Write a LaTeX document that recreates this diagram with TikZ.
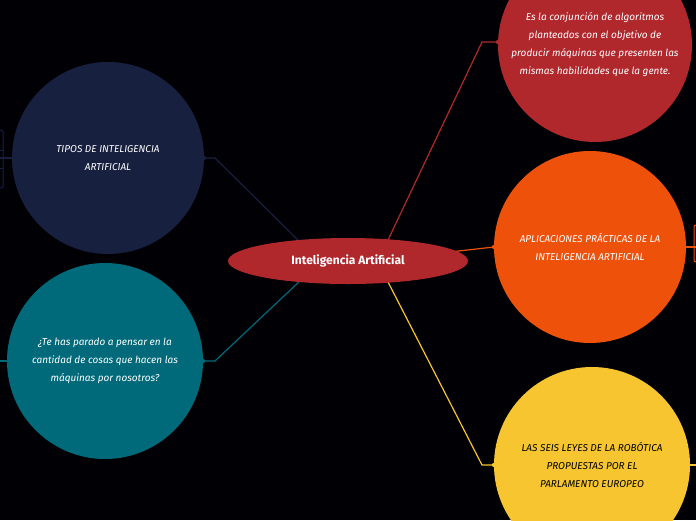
\documentclass[tikz,border=0pt]{standalone}
\usepackage{fontspec}
\setmainfont{Fira Sans}
\usetikzlibrary{shapes.geometric}
\begin{document}
\begin{tikzpicture}[x=1pt,y=-1pt,
 bub/.style={circle,inner sep=0pt,align=center,font=\itshape\fontsize{10}{18}\selectfont},
 con/.style={line width=1.2pt},
 tip/.style={circle,fill,inner sep=0pt,minimum size=4pt}]
\fill[black!98!blue] (0,0) rectangle (696,520);
\useasboundingbox (0,0) rectangle (696,520);
\definecolor{cred}{HTML}{B0282C}\definecolor{corg}{HTML}{EE510A}\definecolor{cyel}{HTML}{F7C52F}
\definecolor{cnav}{HTML}{18203F}\definecolor{ctea}{HTML}{006A7A}
\node[bub,fill=cred,minimum size=194pt,text=white] (r) at (595,45) {Es la conjunción de algoritmos\\planteados con el objetivo de\\producir máquinas que presenten las\\mismas habilidades que la gente.};
\node[bub,fill=corg,minimum size=192pt,text=white] (o) at (590,247) {APLICACIONES PRÁCTICAS DE LA\\INTELIGENCIA ARTIFICIAL};
\node[bub,fill=cyel,minimum size=196pt,text=black] (y) at (592,465) {LAS SEIS LEYES DE LA ROBÓTICA\\PROPUESTAS POR EL\\PARLAMENTO EUROPEO};
\node[bub,fill=cnav,minimum size=192pt,text=white] (n) at (108,158) {TIPOS DE INTELIGENCIA\\ARTIFICIAL};
\node[bub,fill=ctea,minimum size=196pt,text=white] (t) at (105,361) {¿Te has parado a pensar en la\\cantidad de cosas que hacen las\\máquinas por nosotros?};
\coordinate (rb) at (482,42);\coordinate (yb) at (482,465);\coordinate (nb) at (215,158);\coordinate (tb) at (215,361);
\draw[con,cred] (388,240) -- (rb) -- (r.west|-rb);
\node[tip,cred] at (r.west|-rb) {};
\draw[con,corg] (450,252) -- (o.west);
\node[tip,corg] at (o.west) {};
\draw[con,cyel] (388,282) -- (yb) -- (y.west|-yb);
\node[tip,cyel] at (y.west|-yb) {};
\draw[con,cnav] (302,244) -- (nb) -- (n.east);
\node[tip,cnav] at (n.east) {};
\draw[con,ctea] (302,279) -- (tb) -- (t.east);
\node[tip,ctea] at (t.east) {};
\node[ellipse,fill=cred,minimum width=240pt,minimum height=46pt,inner sep=0pt,text=white,font=\bfseries\fontsize{12}{14}\selectfont] (c) at (348,261) {Inteligencia Artificial};
\draw[con,cnav] (n.west) -- (0,158);
\draw[cnav,line width=1pt,rounded corners=2pt] (-4,130) -- (3,130) -- (3,188) -- (-4,188);
\draw[cnav,line width=1pt] (3,150) -- (-4,150) (3,168) -- (-4,168);
\draw[con,ctea] (t.west) -- (0,361);
\draw[con,corg] (o.east) -- (696,247);
\draw[corg,line width=1pt,rounded corners=2pt] (700,225) -- (694,225) -- (694,262) -- (700,262);
\draw[con,cyel] (y.east) -- (696,465);
\end{tikzpicture}
\end{document}
